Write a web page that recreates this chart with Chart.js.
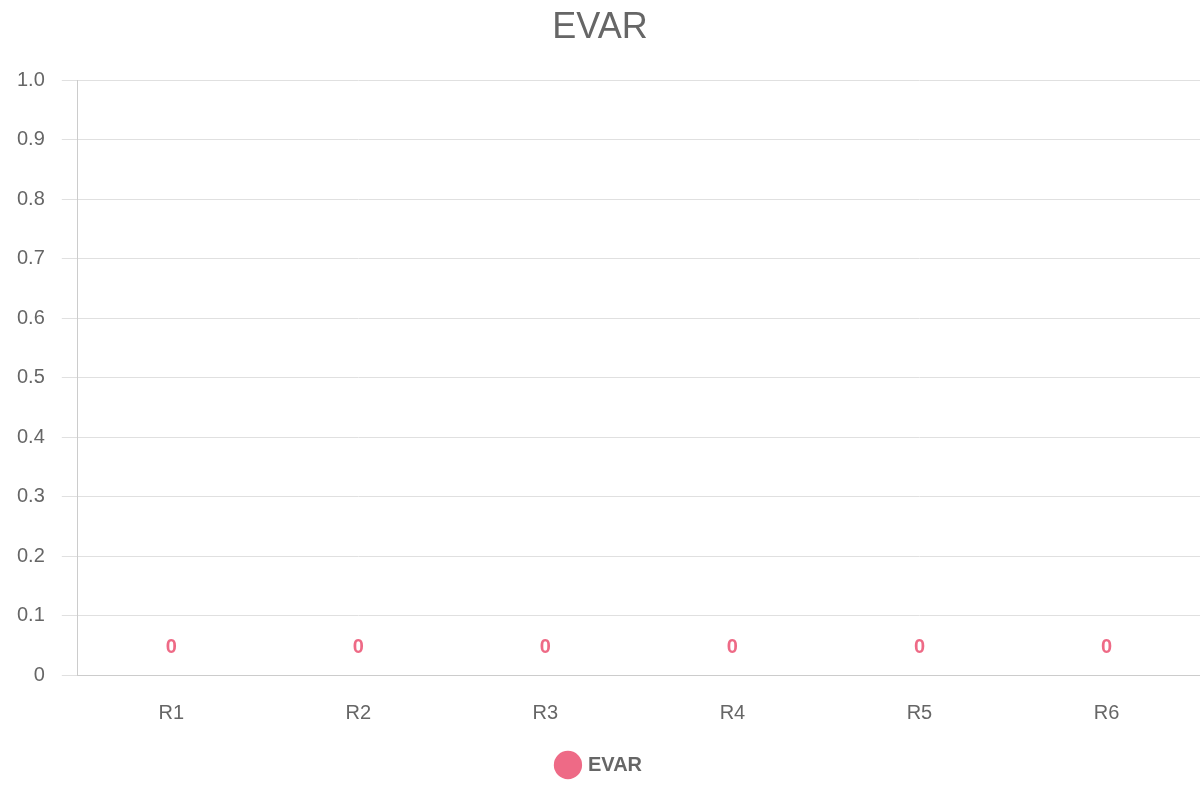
<!DOCTYPE html>
<html>
<head>
<meta charset="utf-8">
<script src="https://cdn.jsdelivr.net/npm/chart.js@4"></script>
<style>
  html, body { margin: 0; padding: 0; background: #fff; }
  #wrap { width: 1200px; height: 800px; }
</style>
</head>
<body>
<div id="wrap"><canvas id="myChart" width="1200" height="800"></canvas></div>
<script>
var categories = ['R1', 'R2', 'R3', 'R4', 'R5', 'R6'];
var evarValues = [0, 0, 0, 0, 0, 0];
var yTicks = [0, 0.1, 0.2, 0.3, 0.4, 0.5, 0.6, 0.7, 0.8, 0.9, 1.0];

var pink = 'rgb(238, 106, 134)';

// draws the value above each bar
const valueLabels = {
    id: 'valueLabels',
    afterDatasetsDraw(chart) {
        const ctx = chart.ctx;
        chart.data.datasets.forEach(function(ds, i) {
            chart.getDatasetMeta(i).data.forEach(function(bar, j) {
                ctx.save();
                ctx.fillStyle = pink;
                ctx.font = 'bold 20px "Liberation Sans", Arial, sans-serif';
                ctx.textAlign = 'center';
                ctx.textBaseline = 'bottom';
                ctx.fillText(String(ds.data[j]), bar.x, bar.y - 18);
                ctx.restore();
            });
        });
    }
};

Chart.defaults.font.family = '"Liberation Sans", Arial, sans-serif';
Chart.defaults.color = '#666';

new Chart(document.getElementById('myChart').getContext('2d'), {
    type: 'bar',
    data: {
        labels: categories,
        datasets: [{
            label: 'EVAR',
            data: evarValues,
            backgroundColor: pink,
            borderColor: pink,
        }]
    },
    options: {
        responsive: false,
        animation: false,
        layout: { padding: { top: 0, right: 0, bottom: 15 } },
        plugins: {
            title: { display: true, text: 'EVAR', font: { size: 36, weight: 'normal' }, color: '#666', padding: { top: 6, bottom: 31 } },
            legend: {
                position: 'bottom',
                labels: { usePointStyle: true, pointStyle: 'circle', boxWidth: 30, boxHeight: 30, font: { size: 20, weight: 'bold' }, color: '#666', padding: 12 }
            },
            tooltip: { enabled: false }
        },
        scales: {
            x: {
                grid: { display: false, drawTicks: true },
                border: { color: '#ccc' },
                ticks: { font: { size: 20 }, padding: 18 }
            },
            y: {
                min: 0, max: 1,
                afterBuildTicks: function(axis) { axis.ticks = yTicks.map(function(v) { return { value: v }; }); },
                grid: { color: '#e0e0e0', tickLength: 16 },
                border: { color: '#ccc' },
                ticks: { font: { size: 20 }, padding: 17, callback: function(v) { return v === 0 ? '0' : v.toFixed(1); } }
            }
        }
    },
    plugins: [valueLabels]
});
</script>
</body>
</html>
